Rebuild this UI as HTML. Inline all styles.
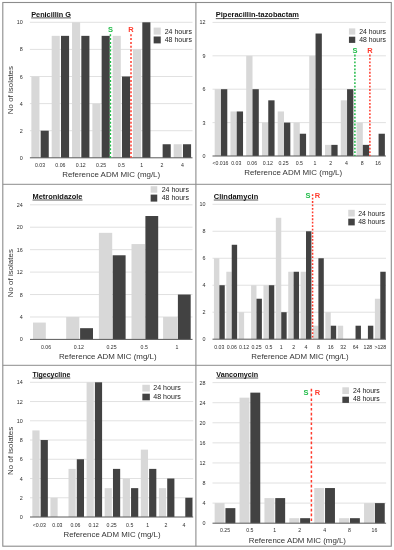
<!DOCTYPE html>
<html><head><meta charset="utf-8"><title>ADM MIC distributions</title>
<style>html,body{margin:0;padding:0;background:#fff}svg{display:block}text{font-family:"Liberation Sans", sans-serif}</style>
</head><body>
<svg width="394" height="550" viewBox="0 0 394 550">
<rect width="394" height="550" fill="#fff"/>
<text x="22.80" y="159.80" font-size="5.4" text-anchor="end" font-weight="normal" fill="#2e2e2e" >0</text>
<line x1="29.9" x2="192.5" y1="130.70" y2="130.70" stroke="#d4d4d4" stroke-width="0.7"/>
<text x="22.80" y="132.70" font-size="5.4" text-anchor="end" font-weight="normal" fill="#2e2e2e" >2</text>
<line x1="29.9" x2="192.5" y1="103.60" y2="103.60" stroke="#d4d4d4" stroke-width="0.7"/>
<text x="22.80" y="105.60" font-size="5.4" text-anchor="end" font-weight="normal" fill="#2e2e2e" >4</text>
<line x1="29.9" x2="192.5" y1="76.50" y2="76.50" stroke="#d4d4d4" stroke-width="0.7"/>
<text x="22.80" y="78.50" font-size="5.4" text-anchor="end" font-weight="normal" fill="#2e2e2e" >6</text>
<line x1="29.9" x2="192.5" y1="49.40" y2="49.40" stroke="#d4d4d4" stroke-width="0.7"/>
<text x="22.80" y="51.40" font-size="5.4" text-anchor="end" font-weight="normal" fill="#2e2e2e" >8</text>
<line x1="29.9" x2="192.5" y1="22.30" y2="22.30" stroke="#d4d4d4" stroke-width="0.7"/>
<text x="22.80" y="24.30" font-size="5.4" text-anchor="end" font-weight="normal" fill="#2e2e2e" >10</text>
<rect x="31.36" y="76.50" width="8.10" height="81.30" fill="#d8d8d8"/>
<rect x="40.66" y="130.70" width="8.10" height="27.10" fill="#424242"/>
<text x="40.06" y="166.70" font-size="5.2" text-anchor="middle" font-weight="normal" fill="#2e2e2e" >0.03</text>
<rect x="51.69" y="35.85" width="8.10" height="121.95" fill="#d8d8d8"/>
<rect x="60.99" y="35.85" width="8.10" height="121.95" fill="#424242"/>
<text x="60.39" y="166.70" font-size="5.2" text-anchor="middle" font-weight="normal" fill="#2e2e2e" >0.06</text>
<rect x="72.03" y="22.30" width="8.10" height="135.50" fill="#d8d8d8"/>
<rect x="81.32" y="35.85" width="8.10" height="121.95" fill="#424242"/>
<text x="80.72" y="166.70" font-size="5.2" text-anchor="middle" font-weight="normal" fill="#2e2e2e" >0.12</text>
<rect x="92.36" y="103.60" width="8.10" height="54.20" fill="#d8d8d8"/>
<rect x="101.65" y="35.85" width="8.10" height="121.95" fill="#424242"/>
<text x="101.05" y="166.70" font-size="5.2" text-anchor="middle" font-weight="normal" fill="#2e2e2e" >0.25</text>
<rect x="112.69" y="35.85" width="8.10" height="121.95" fill="#d8d8d8"/>
<rect x="121.98" y="76.50" width="8.10" height="81.30" fill="#424242"/>
<text x="121.38" y="166.70" font-size="5.2" text-anchor="middle" font-weight="normal" fill="#2e2e2e" >0.5</text>
<rect x="133.01" y="49.40" width="8.10" height="108.40" fill="#d8d8d8"/>
<rect x="142.31" y="22.30" width="8.10" height="135.50" fill="#424242"/>
<text x="141.71" y="166.70" font-size="5.2" text-anchor="middle" font-weight="normal" fill="#2e2e2e" >1</text>
<rect x="162.64" y="144.25" width="8.10" height="13.55" fill="#424242"/>
<text x="162.04" y="166.70" font-size="5.2" text-anchor="middle" font-weight="normal" fill="#2e2e2e" >2</text>
<rect x="173.68" y="144.25" width="8.10" height="13.55" fill="#d8d8d8"/>
<rect x="182.97" y="144.25" width="8.10" height="13.55" fill="#424242"/>
<text x="182.38" y="166.70" font-size="5.2" text-anchor="middle" font-weight="normal" fill="#2e2e2e" >4</text>
<line x1="29.9" x2="192.5" y1="157.80" y2="157.80" stroke="#5a5a5a" stroke-width="1"/>
<line x1="110.4" x2="110.4" y1="34.3" y2="157.8" stroke="#20bb48" stroke-width="1.5" stroke-dasharray="2 1.8"/>
<line x1="131" x2="131" y1="34.3" y2="157.8" stroke="#ff3a2c" stroke-width="1.5" stroke-dasharray="2 1.8"/>
<text x="110.40" y="31.90" font-size="7.5" text-anchor="middle" font-weight="bold" fill="#20bb48" >S</text>
<text x="131.00" y="31.90" font-size="7.5" text-anchor="middle" font-weight="bold" fill="#ff3a2c" >R</text>
<text x="31.20" y="16.60" font-size="7.0" text-anchor="start" font-weight="bold" fill="#111" textLength="39.80" lengthAdjust="spacingAndGlyphs" >Penicillin G</text>
<line x1="31.2" x2="71" y1="17.90" y2="17.90" stroke="#111" stroke-width="0.7"/>
<text x="0.00" y="0.00" font-size="7.0" text-anchor="middle" font-weight="normal" fill="#333333" textLength="48.20" lengthAdjust="spacingAndGlyphs" transform="translate(12.6,90.1) rotate(-90)">No of isolates</text>
<text x="62.20" y="177.40" font-size="7.0" text-anchor="start" font-weight="normal" fill="#333333" textLength="98.00" lengthAdjust="spacingAndGlyphs" >Reference ADM MIC (mg/L)</text>
<rect x="153.65" y="27.599999999999998" width="7.10" height="7.00" fill="#d8d8d8"/>
<rect x="153.65" y="36.5" width="7.10" height="6.90" fill="#424242"/>
<text x="164.70" y="34.00" font-size="6.6" text-anchor="start" font-weight="normal" fill="#222" textLength="27.20" lengthAdjust="spacingAndGlyphs" >24 hours</text>
<text x="164.70" y="42.10" font-size="6.6" text-anchor="start" font-weight="normal" fill="#222" textLength="27.20" lengthAdjust="spacingAndGlyphs" >48 hours</text>
<text x="205.50" y="158.00" font-size="5.4" text-anchor="end" font-weight="normal" fill="#2e2e2e" >0</text>
<line x1="212.5" x2="385.9" y1="122.60" y2="122.60" stroke="#d4d4d4" stroke-width="0.7"/>
<text x="205.50" y="124.60" font-size="5.4" text-anchor="end" font-weight="normal" fill="#2e2e2e" >3</text>
<line x1="212.5" x2="385.9" y1="89.20" y2="89.20" stroke="#d4d4d4" stroke-width="0.7"/>
<text x="205.50" y="91.20" font-size="5.4" text-anchor="end" font-weight="normal" fill="#2e2e2e" >6</text>
<line x1="212.5" x2="385.9" y1="55.80" y2="55.80" stroke="#d4d4d4" stroke-width="0.7"/>
<text x="205.50" y="57.80" font-size="5.4" text-anchor="end" font-weight="normal" fill="#2e2e2e" >9</text>
<line x1="212.5" x2="385.9" y1="22.40" y2="22.40" stroke="#d4d4d4" stroke-width="0.7"/>
<text x="205.50" y="24.40" font-size="5.4" text-anchor="end" font-weight="normal" fill="#2e2e2e" >12</text>
<rect x="214.68" y="89.20" width="6.30" height="66.80" fill="#d8d8d8"/>
<rect x="220.98" y="89.20" width="6.30" height="66.80" fill="#424242"/>
<text x="220.48" y="165.40" font-size="5.2" text-anchor="middle" font-weight="normal" fill="#2e2e2e" >&lt;0.016</text>
<rect x="230.44" y="111.47" width="6.30" height="44.53" fill="#d8d8d8"/>
<rect x="236.74" y="111.47" width="6.30" height="44.53" fill="#424242"/>
<text x="236.24" y="165.40" font-size="5.2" text-anchor="middle" font-weight="normal" fill="#2e2e2e" >0.03</text>
<rect x="246.20" y="55.80" width="6.30" height="100.20" fill="#d8d8d8"/>
<rect x="252.50" y="89.20" width="6.30" height="66.80" fill="#424242"/>
<text x="252.00" y="165.40" font-size="5.2" text-anchor="middle" font-weight="normal" fill="#2e2e2e" >0.06</text>
<rect x="261.96" y="122.60" width="6.30" height="33.40" fill="#d8d8d8"/>
<rect x="268.26" y="100.33" width="6.30" height="55.67" fill="#424242"/>
<text x="267.76" y="165.40" font-size="5.2" text-anchor="middle" font-weight="normal" fill="#2e2e2e" >0.12</text>
<rect x="277.72" y="111.47" width="6.30" height="44.53" fill="#d8d8d8"/>
<rect x="284.02" y="122.60" width="6.30" height="33.40" fill="#424242"/>
<text x="283.52" y="165.40" font-size="5.2" text-anchor="middle" font-weight="normal" fill="#2e2e2e" >0.25</text>
<rect x="293.48" y="122.60" width="6.30" height="33.40" fill="#d8d8d8"/>
<rect x="299.78" y="133.73" width="6.30" height="22.27" fill="#424242"/>
<text x="299.28" y="165.40" font-size="5.2" text-anchor="middle" font-weight="normal" fill="#2e2e2e" >0.5</text>
<rect x="309.24" y="55.80" width="6.30" height="100.20" fill="#d8d8d8"/>
<rect x="315.54" y="33.53" width="6.30" height="122.47" fill="#424242"/>
<text x="315.04" y="165.40" font-size="5.2" text-anchor="middle" font-weight="normal" fill="#2e2e2e" >1</text>
<rect x="325.00" y="144.87" width="6.30" height="11.13" fill="#d8d8d8"/>
<rect x="331.30" y="144.87" width="6.30" height="11.13" fill="#424242"/>
<text x="330.80" y="165.40" font-size="5.2" text-anchor="middle" font-weight="normal" fill="#2e2e2e" >2</text>
<rect x="340.76" y="100.33" width="6.30" height="55.67" fill="#d8d8d8"/>
<rect x="347.06" y="89.20" width="6.30" height="66.80" fill="#424242"/>
<text x="346.56" y="165.40" font-size="5.2" text-anchor="middle" font-weight="normal" fill="#2e2e2e" >4</text>
<rect x="356.52" y="122.60" width="6.30" height="33.40" fill="#d8d8d8"/>
<rect x="362.82" y="144.87" width="6.30" height="11.13" fill="#424242"/>
<text x="362.32" y="165.40" font-size="5.2" text-anchor="middle" font-weight="normal" fill="#2e2e2e" >8</text>
<rect x="378.58" y="133.73" width="6.30" height="22.27" fill="#424242"/>
<text x="378.08" y="165.40" font-size="5.2" text-anchor="middle" font-weight="normal" fill="#2e2e2e" >16</text>
<line x1="212.5" x2="385.9" y1="156.00" y2="156.00" stroke="#5a5a5a" stroke-width="1"/>
<line x1="354.9" x2="354.9" y1="54.6" y2="156" stroke="#20bb48" stroke-width="1.5" stroke-dasharray="1.8 1.65"/>
<line x1="369.9" x2="369.9" y1="54.6" y2="156" stroke="#ff3a2c" stroke-width="1.5" stroke-dasharray="1.8 1.65"/>
<text x="354.90" y="52.90" font-size="7.5" text-anchor="middle" font-weight="bold" fill="#20bb48" >S</text>
<text x="369.90" y="52.90" font-size="7.5" text-anchor="middle" font-weight="bold" fill="#ff3a2c" >R</text>
<text x="215.80" y="17.30" font-size="7.0" text-anchor="start" font-weight="bold" fill="#111" textLength="83.20" lengthAdjust="spacingAndGlyphs" >Piperacillin-tazobactam</text>
<line x1="215.8" x2="299" y1="18.60" y2="18.60" stroke="#111" stroke-width="0.7"/>
<text x="244.20" y="174.90" font-size="7.0" text-anchor="start" font-weight="normal" fill="#333333" textLength="98.00" lengthAdjust="spacingAndGlyphs" >Reference ADM MIC (mg/L)</text>
<rect x="348.95" y="28.4" width="6.30" height="6.20" fill="#d8d8d8"/>
<rect x="348.95" y="36.7" width="6.30" height="6.20" fill="#424242"/>
<text x="359.20" y="34.00" font-size="6.6" text-anchor="start" font-weight="normal" fill="#222" textLength="26.70" lengthAdjust="spacingAndGlyphs" >24 hours</text>
<text x="359.20" y="42.10" font-size="6.6" text-anchor="start" font-weight="normal" fill="#222" textLength="26.70" lengthAdjust="spacingAndGlyphs" >48 hours</text>
<text x="22.80" y="341.40" font-size="5.4" text-anchor="end" font-weight="normal" fill="#2e2e2e" >0</text>
<line x1="30" x2="192.5" y1="316.97" y2="316.97" stroke="#d4d4d4" stroke-width="0.7"/>
<text x="22.80" y="318.97" font-size="5.4" text-anchor="end" font-weight="normal" fill="#2e2e2e" >4</text>
<line x1="30" x2="192.5" y1="294.53" y2="294.53" stroke="#d4d4d4" stroke-width="0.7"/>
<text x="22.80" y="296.53" font-size="5.4" text-anchor="end" font-weight="normal" fill="#2e2e2e" >8</text>
<line x1="30" x2="192.5" y1="272.10" y2="272.10" stroke="#d4d4d4" stroke-width="0.7"/>
<text x="22.80" y="274.10" font-size="5.4" text-anchor="end" font-weight="normal" fill="#2e2e2e" >12</text>
<line x1="30" x2="192.5" y1="249.67" y2="249.67" stroke="#d4d4d4" stroke-width="0.7"/>
<text x="22.80" y="251.67" font-size="5.4" text-anchor="end" font-weight="normal" fill="#2e2e2e" >16</text>
<line x1="30" x2="192.5" y1="227.23" y2="227.23" stroke="#d4d4d4" stroke-width="0.7"/>
<text x="22.80" y="229.23" font-size="5.4" text-anchor="end" font-weight="normal" fill="#2e2e2e" >20</text>
<line x1="30" x2="192.5" y1="204.80" y2="204.80" stroke="#d4d4d4" stroke-width="0.7"/>
<text x="22.80" y="206.80" font-size="5.4" text-anchor="end" font-weight="normal" fill="#2e2e2e" >24</text>
<rect x="33.00" y="322.57" width="12.80" height="16.82" fill="#d8d8d8"/>
<text x="46.10" y="348.60" font-size="5.2" text-anchor="middle" font-weight="normal" fill="#2e2e2e" >0.06</text>
<rect x="66.20" y="316.97" width="13.10" height="22.43" fill="#d8d8d8"/>
<rect x="80.10" y="328.18" width="12.90" height="11.22" fill="#424242"/>
<text x="78.80" y="348.60" font-size="5.2" text-anchor="middle" font-weight="normal" fill="#2e2e2e" >0.12</text>
<rect x="98.90" y="232.84" width="13.30" height="106.56" fill="#d8d8d8"/>
<rect x="112.70" y="255.28" width="12.90" height="84.12" fill="#424242"/>
<text x="111.50" y="348.60" font-size="5.2" text-anchor="middle" font-weight="normal" fill="#2e2e2e" >0.25</text>
<rect x="131.50" y="244.06" width="13.60" height="95.34" fill="#d8d8d8"/>
<rect x="145.40" y="216.02" width="12.80" height="123.38" fill="#424242"/>
<text x="144.20" y="348.60" font-size="5.2" text-anchor="middle" font-weight="normal" fill="#2e2e2e" >0.5</text>
<rect x="163.10" y="316.97" width="14.30" height="22.43" fill="#d8d8d8"/>
<rect x="177.90" y="294.53" width="12.80" height="44.87" fill="#424242"/>
<text x="176.90" y="348.60" font-size="5.2" text-anchor="middle" font-weight="normal" fill="#2e2e2e" >1</text>
<line x1="30" x2="192.5" y1="339.40" y2="339.40" stroke="#5a5a5a" stroke-width="1"/>
<text x="32.50" y="198.70" font-size="7.0" text-anchor="start" font-weight="bold" fill="#111" textLength="50.00" lengthAdjust="spacingAndGlyphs" >Metronidazole</text>
<line x1="32.5" x2="82.5" y1="200.00" y2="200.00" stroke="#111" stroke-width="0.7"/>
<text x="0.00" y="0.00" font-size="7.0" text-anchor="middle" font-weight="normal" fill="#333333" textLength="48.20" lengthAdjust="spacingAndGlyphs" transform="translate(12.6,273.2) rotate(-90)">No of isolates</text>
<text x="58.90" y="358.90" font-size="7.0" text-anchor="start" font-weight="normal" fill="#333333" textLength="97.70" lengthAdjust="spacingAndGlyphs" >Reference ADM MIC (mg/L)</text>
<rect x="150.65" y="186.2" width="6.60" height="6.50" fill="#d8d8d8"/>
<rect x="150.65" y="194.6" width="6.60" height="7.00" fill="#424242"/>
<text x="161.70" y="191.90" font-size="6.6" text-anchor="start" font-weight="normal" fill="#222" textLength="27.20" lengthAdjust="spacingAndGlyphs" >24 hours</text>
<text x="161.70" y="200.30" font-size="6.6" text-anchor="start" font-weight="normal" fill="#222" textLength="27.20" lengthAdjust="spacingAndGlyphs" >48 hours</text>
<text x="205.50" y="341.20" font-size="5.4" text-anchor="end" font-weight="normal" fill="#2e2e2e" >0</text>
<line x1="212.5" x2="386" y1="312.22" y2="312.22" stroke="#d4d4d4" stroke-width="0.7"/>
<text x="205.50" y="314.22" font-size="5.4" text-anchor="end" font-weight="normal" fill="#2e2e2e" >2</text>
<line x1="212.5" x2="386" y1="285.24" y2="285.24" stroke="#d4d4d4" stroke-width="0.7"/>
<text x="205.50" y="287.24" font-size="5.4" text-anchor="end" font-weight="normal" fill="#2e2e2e" >4</text>
<line x1="212.5" x2="386" y1="258.26" y2="258.26" stroke="#d4d4d4" stroke-width="0.7"/>
<text x="205.50" y="260.26" font-size="5.4" text-anchor="end" font-weight="normal" fill="#2e2e2e" >6</text>
<line x1="212.5" x2="386" y1="231.28" y2="231.28" stroke="#d4d4d4" stroke-width="0.7"/>
<text x="205.50" y="233.28" font-size="5.4" text-anchor="end" font-weight="normal" fill="#2e2e2e" >8</text>
<line x1="212.5" x2="386" y1="204.30" y2="204.30" stroke="#d4d4d4" stroke-width="0.7"/>
<text x="205.50" y="206.30" font-size="5.4" text-anchor="end" font-weight="normal" fill="#2e2e2e" >10</text>
<rect x="213.95" y="258.26" width="5.40" height="80.94" fill="#d8d8d8"/>
<rect x="219.35" y="285.24" width="5.40" height="53.96" fill="#424242"/>
<text x="219.35" y="348.60" font-size="5.2" text-anchor="middle" font-weight="normal" fill="#2e2e2e" >0.03</text>
<rect x="226.33" y="271.75" width="5.40" height="67.45" fill="#d8d8d8"/>
<rect x="231.73" y="244.77" width="5.40" height="94.43" fill="#424242"/>
<text x="231.73" y="348.60" font-size="5.2" text-anchor="middle" font-weight="normal" fill="#2e2e2e" >0.06</text>
<rect x="238.71" y="312.22" width="5.40" height="26.98" fill="#d8d8d8"/>
<text x="244.11" y="348.60" font-size="5.2" text-anchor="middle" font-weight="normal" fill="#2e2e2e" >0.12</text>
<rect x="251.09" y="285.24" width="5.40" height="53.96" fill="#d8d8d8"/>
<rect x="256.49" y="298.73" width="5.40" height="40.47" fill="#424242"/>
<text x="256.49" y="348.60" font-size="5.2" text-anchor="middle" font-weight="normal" fill="#2e2e2e" >0.25</text>
<rect x="263.47" y="285.24" width="5.40" height="53.96" fill="#d8d8d8"/>
<rect x="268.87" y="285.24" width="5.40" height="53.96" fill="#424242"/>
<text x="268.87" y="348.60" font-size="5.2" text-anchor="middle" font-weight="normal" fill="#2e2e2e" >0.5</text>
<rect x="275.85" y="217.79" width="5.40" height="121.41" fill="#d8d8d8"/>
<rect x="281.25" y="312.22" width="5.40" height="26.98" fill="#424242"/>
<text x="281.25" y="348.60" font-size="5.2" text-anchor="middle" font-weight="normal" fill="#2e2e2e" >1</text>
<rect x="288.23" y="271.75" width="5.40" height="67.45" fill="#d8d8d8"/>
<rect x="293.63" y="271.75" width="5.40" height="67.45" fill="#424242"/>
<text x="293.63" y="348.60" font-size="5.2" text-anchor="middle" font-weight="normal" fill="#2e2e2e" >2</text>
<rect x="300.61" y="271.75" width="5.40" height="67.45" fill="#d8d8d8"/>
<rect x="306.01" y="231.28" width="5.40" height="107.92" fill="#424242"/>
<text x="306.01" y="348.60" font-size="5.2" text-anchor="middle" font-weight="normal" fill="#2e2e2e" >4</text>
<rect x="312.99" y="325.71" width="5.40" height="13.49" fill="#d8d8d8"/>
<rect x="318.39" y="258.26" width="5.40" height="80.94" fill="#424242"/>
<text x="318.39" y="348.60" font-size="5.2" text-anchor="middle" font-weight="normal" fill="#2e2e2e" >8</text>
<rect x="325.37" y="312.22" width="5.40" height="26.98" fill="#d8d8d8"/>
<rect x="330.77" y="325.71" width="5.40" height="13.49" fill="#424242"/>
<text x="330.77" y="348.60" font-size="5.2" text-anchor="middle" font-weight="normal" fill="#2e2e2e" >16</text>
<rect x="337.75" y="325.71" width="5.40" height="13.49" fill="#d8d8d8"/>
<text x="343.15" y="348.60" font-size="5.2" text-anchor="middle" font-weight="normal" fill="#2e2e2e" >32</text>
<rect x="355.53" y="325.71" width="5.40" height="13.49" fill="#424242"/>
<text x="355.53" y="348.60" font-size="5.2" text-anchor="middle" font-weight="normal" fill="#2e2e2e" >64</text>
<rect x="367.91" y="325.71" width="5.40" height="13.49" fill="#424242"/>
<text x="367.91" y="348.60" font-size="5.2" text-anchor="middle" font-weight="normal" fill="#2e2e2e" >128</text>
<rect x="374.89" y="298.73" width="5.40" height="40.47" fill="#d8d8d8"/>
<rect x="380.29" y="271.75" width="5.40" height="67.45" fill="#424242"/>
<text x="380.29" y="348.60" font-size="5.2" text-anchor="middle" font-weight="normal" fill="#2e2e2e" >&gt;128</text>
<line x1="212.5" x2="386" y1="339.20" y2="339.20" stroke="#5a5a5a" stroke-width="1"/>
<line x1="312.6" x2="312.6" y1="194.2" y2="339.2" stroke="#ff3a2c" stroke-width="1.5" stroke-dasharray="1.8 1.65"/>
<text x="308.00" y="198.30" font-size="7.5" text-anchor="middle" font-weight="bold" fill="#20bb48" >S</text>
<text x="317.40" y="198.30" font-size="7.5" text-anchor="middle" font-weight="bold" fill="#ff3a2c" >R</text>
<text x="213.80" y="198.70" font-size="7.0" text-anchor="start" font-weight="bold" fill="#111" textLength="44.40" lengthAdjust="spacingAndGlyphs" >Clindamycin</text>
<line x1="213.8" x2="258.2" y1="200.00" y2="200.00" stroke="#111" stroke-width="0.7"/>
<text x="251.30" y="358.90" font-size="7.0" text-anchor="start" font-weight="normal" fill="#333333" textLength="97.30" lengthAdjust="spacingAndGlyphs" >Reference ADM MIC (mg/L)</text>
<rect x="348.25" y="209.79999999999998" width="6.50" height="6.70" fill="#d8d8d8"/>
<rect x="348.25" y="218.7" width="6.50" height="6.70" fill="#424242"/>
<text x="358.20" y="215.50" font-size="6.6" text-anchor="start" font-weight="normal" fill="#222" textLength="26.70" lengthAdjust="spacingAndGlyphs" >24 hours</text>
<text x="358.20" y="224.40" font-size="6.6" text-anchor="start" font-weight="normal" fill="#222" textLength="26.70" lengthAdjust="spacingAndGlyphs" >48 hours</text>
<text x="22.80" y="519.00" font-size="5.4" text-anchor="end" font-weight="normal" fill="#2e2e2e" >0</text>
<line x1="30" x2="193.2" y1="497.76" y2="497.76" stroke="#d4d4d4" stroke-width="0.7"/>
<text x="22.80" y="499.76" font-size="5.4" text-anchor="end" font-weight="normal" fill="#2e2e2e" >2</text>
<line x1="30" x2="193.2" y1="478.51" y2="478.51" stroke="#d4d4d4" stroke-width="0.7"/>
<text x="22.80" y="480.51" font-size="5.4" text-anchor="end" font-weight="normal" fill="#2e2e2e" >4</text>
<line x1="30" x2="193.2" y1="459.27" y2="459.27" stroke="#d4d4d4" stroke-width="0.7"/>
<text x="22.80" y="461.27" font-size="5.4" text-anchor="end" font-weight="normal" fill="#2e2e2e" >6</text>
<line x1="30" x2="193.2" y1="440.03" y2="440.03" stroke="#d4d4d4" stroke-width="0.7"/>
<text x="22.80" y="442.03" font-size="5.4" text-anchor="end" font-weight="normal" fill="#2e2e2e" >8</text>
<line x1="30" x2="193.2" y1="420.79" y2="420.79" stroke="#d4d4d4" stroke-width="0.7"/>
<text x="22.80" y="422.79" font-size="5.4" text-anchor="end" font-weight="normal" fill="#2e2e2e" >10</text>
<line x1="30" x2="193.2" y1="401.54" y2="401.54" stroke="#d4d4d4" stroke-width="0.7"/>
<text x="22.80" y="403.54" font-size="5.4" text-anchor="end" font-weight="normal" fill="#2e2e2e" >12</text>
<line x1="30" x2="193.2" y1="382.30" y2="382.30" stroke="#d4d4d4" stroke-width="0.7"/>
<text x="22.80" y="384.30" font-size="5.4" text-anchor="end" font-weight="normal" fill="#2e2e2e" >14</text>
<rect x="32.35" y="430.41" width="7.20" height="86.59" fill="#d8d8d8"/>
<rect x="40.65" y="440.03" width="7.20" height="76.97" fill="#424242"/>
<text x="39.30" y="526.60" font-size="5.2" text-anchor="middle" font-weight="normal" fill="#2e2e2e" >&lt;0.03</text>
<rect x="50.43" y="497.76" width="7.20" height="19.24" fill="#d8d8d8"/>
<text x="57.38" y="526.60" font-size="5.2" text-anchor="middle" font-weight="normal" fill="#2e2e2e" >0.03</text>
<rect x="68.51" y="468.89" width="7.20" height="48.11" fill="#d8d8d8"/>
<rect x="76.81" y="459.27" width="7.20" height="57.73" fill="#424242"/>
<text x="75.46" y="526.60" font-size="5.2" text-anchor="middle" font-weight="normal" fill="#2e2e2e" >0.06</text>
<rect x="86.59" y="382.30" width="7.20" height="134.70" fill="#d8d8d8"/>
<rect x="94.89" y="382.30" width="7.20" height="134.70" fill="#424242"/>
<text x="93.54" y="526.60" font-size="5.2" text-anchor="middle" font-weight="normal" fill="#2e2e2e" >0.12</text>
<rect x="104.67" y="488.14" width="7.20" height="28.86" fill="#d8d8d8"/>
<rect x="112.97" y="468.89" width="7.20" height="48.11" fill="#424242"/>
<text x="111.62" y="526.60" font-size="5.2" text-anchor="middle" font-weight="normal" fill="#2e2e2e" >0.25</text>
<rect x="122.75" y="478.51" width="7.20" height="38.49" fill="#d8d8d8"/>
<rect x="131.05" y="488.14" width="7.20" height="28.86" fill="#424242"/>
<text x="129.70" y="526.60" font-size="5.2" text-anchor="middle" font-weight="normal" fill="#2e2e2e" >0.5</text>
<rect x="140.83" y="449.65" width="7.20" height="67.35" fill="#d8d8d8"/>
<rect x="149.13" y="468.89" width="7.20" height="48.11" fill="#424242"/>
<text x="147.78" y="526.60" font-size="5.2" text-anchor="middle" font-weight="normal" fill="#2e2e2e" >1</text>
<rect x="158.91" y="488.14" width="7.20" height="28.86" fill="#d8d8d8"/>
<rect x="167.21" y="478.51" width="7.20" height="38.49" fill="#424242"/>
<text x="165.86" y="526.60" font-size="5.2" text-anchor="middle" font-weight="normal" fill="#2e2e2e" >2</text>
<rect x="185.29" y="497.76" width="7.20" height="19.24" fill="#424242"/>
<text x="183.94" y="526.60" font-size="5.2" text-anchor="middle" font-weight="normal" fill="#2e2e2e" >4</text>
<line x1="30" x2="193.2" y1="517.00" y2="517.00" stroke="#5a5a5a" stroke-width="1"/>
<text x="32.50" y="376.70" font-size="7.0" text-anchor="start" font-weight="bold" fill="#111" textLength="37.80" lengthAdjust="spacingAndGlyphs" >Tigecycline</text>
<line x1="32.5" x2="70.3" y1="378.00" y2="378.00" stroke="#111" stroke-width="0.7"/>
<text x="0.00" y="0.00" font-size="7.0" text-anchor="middle" font-weight="normal" fill="#333333" textLength="48.20" lengthAdjust="spacingAndGlyphs" transform="translate(12.6,450.9) rotate(-90)">No of isolates</text>
<text x="63.50" y="536.80" font-size="7.0" text-anchor="start" font-weight="normal" fill="#333333" textLength="97.00" lengthAdjust="spacingAndGlyphs" >Reference ADM MIC (mg/L)</text>
<rect x="142.35" y="384.8" width="7.50" height="6.70" fill="#d8d8d8"/>
<rect x="142.35" y="393.7" width="7.50" height="6.60" fill="#424242"/>
<text x="153.30" y="390.40" font-size="6.6" text-anchor="start" font-weight="normal" fill="#222" textLength="27.50" lengthAdjust="spacingAndGlyphs" >24 hours</text>
<text x="153.30" y="399.30" font-size="6.6" text-anchor="start" font-weight="normal" fill="#222" textLength="27.50" lengthAdjust="spacingAndGlyphs" >48 hours</text>
<text x="205.40" y="525.20" font-size="5.4" text-anchor="end" font-weight="normal" fill="#2e2e2e" >0</text>
<line x1="212.5" x2="386.1" y1="503.11" y2="503.11" stroke="#d4d4d4" stroke-width="0.7"/>
<text x="205.40" y="505.11" font-size="5.4" text-anchor="end" font-weight="normal" fill="#2e2e2e" >4</text>
<line x1="212.5" x2="386.1" y1="483.03" y2="483.03" stroke="#d4d4d4" stroke-width="0.7"/>
<text x="205.40" y="485.03" font-size="5.4" text-anchor="end" font-weight="normal" fill="#2e2e2e" >8</text>
<line x1="212.5" x2="386.1" y1="462.94" y2="462.94" stroke="#d4d4d4" stroke-width="0.7"/>
<text x="205.40" y="464.94" font-size="5.4" text-anchor="end" font-weight="normal" fill="#2e2e2e" >12</text>
<line x1="212.5" x2="386.1" y1="442.86" y2="442.86" stroke="#d4d4d4" stroke-width="0.7"/>
<text x="205.40" y="444.86" font-size="5.4" text-anchor="end" font-weight="normal" fill="#2e2e2e" >16</text>
<line x1="212.5" x2="386.1" y1="422.77" y2="422.77" stroke="#d4d4d4" stroke-width="0.7"/>
<text x="205.40" y="424.77" font-size="5.4" text-anchor="end" font-weight="normal" fill="#2e2e2e" >20</text>
<line x1="212.5" x2="386.1" y1="402.69" y2="402.69" stroke="#d4d4d4" stroke-width="0.7"/>
<text x="205.40" y="404.69" font-size="5.4" text-anchor="end" font-weight="normal" fill="#2e2e2e" >24</text>
<line x1="212.5" x2="386.1" y1="382.60" y2="382.60" stroke="#d4d4d4" stroke-width="0.7"/>
<text x="205.40" y="384.60" font-size="5.4" text-anchor="end" font-weight="normal" fill="#2e2e2e" >28</text>
<rect x="214.65" y="503.11" width="9.90" height="20.09" fill="#d8d8d8"/>
<rect x="225.45" y="508.14" width="9.90" height="15.06" fill="#424242"/>
<text x="225.00" y="532.20" font-size="5.2" text-anchor="middle" font-weight="normal" fill="#2e2e2e" >0.25</text>
<rect x="239.55" y="397.66" width="9.90" height="125.54" fill="#d8d8d8"/>
<rect x="250.35" y="392.64" width="9.90" height="130.56" fill="#424242"/>
<text x="249.90" y="532.20" font-size="5.2" text-anchor="middle" font-weight="normal" fill="#2e2e2e" >0.5</text>
<rect x="264.45" y="498.09" width="9.90" height="25.11" fill="#d8d8d8"/>
<rect x="275.25" y="498.09" width="9.90" height="25.11" fill="#424242"/>
<text x="274.80" y="532.20" font-size="5.2" text-anchor="middle" font-weight="normal" fill="#2e2e2e" >1</text>
<rect x="289.35" y="518.18" width="9.90" height="5.02" fill="#d8d8d8"/>
<rect x="300.15" y="518.18" width="9.90" height="5.02" fill="#424242"/>
<text x="299.70" y="532.20" font-size="5.2" text-anchor="middle" font-weight="normal" fill="#2e2e2e" >2</text>
<rect x="314.25" y="488.05" width="9.90" height="35.15" fill="#d8d8d8"/>
<rect x="325.05" y="488.05" width="9.90" height="35.15" fill="#424242"/>
<text x="324.60" y="532.20" font-size="5.2" text-anchor="middle" font-weight="normal" fill="#2e2e2e" >4</text>
<rect x="339.15" y="518.18" width="9.90" height="5.02" fill="#d8d8d8"/>
<rect x="349.95" y="518.18" width="9.90" height="5.02" fill="#424242"/>
<text x="349.50" y="532.20" font-size="5.2" text-anchor="middle" font-weight="normal" fill="#2e2e2e" >8</text>
<rect x="364.05" y="503.11" width="9.90" height="20.09" fill="#d8d8d8"/>
<rect x="374.85" y="503.11" width="9.90" height="20.09" fill="#424242"/>
<text x="374.40" y="532.20" font-size="5.2" text-anchor="middle" font-weight="normal" fill="#2e2e2e" >16</text>
<line x1="212.5" x2="386.1" y1="523.20" y2="523.20" stroke="#5a5a5a" stroke-width="1"/>
<line x1="311.4" x2="311.4" y1="388.8" y2="523.2" stroke="#ff3a2c" stroke-width="1.5" stroke-dasharray="2.6 2.2"/>
<text x="305.90" y="394.80" font-size="7.5" text-anchor="middle" font-weight="bold" fill="#20bb48" >S</text>
<text x="317.40" y="394.80" font-size="7.5" text-anchor="middle" font-weight="bold" fill="#ff3a2c" >R</text>
<text x="216.30" y="376.70" font-size="7.0" text-anchor="start" font-weight="bold" fill="#111" textLength="41.90" lengthAdjust="spacingAndGlyphs" >Vancomycin</text>
<line x1="216.3" x2="258.2" y1="378.00" y2="378.00" stroke="#111" stroke-width="0.7"/>
<text x="248.80" y="542.90" font-size="7.0" text-anchor="start" font-weight="normal" fill="#333333" textLength="97.20" lengthAdjust="spacingAndGlyphs" >Reference ADM MIC (mg/L)</text>
<rect x="342.34999999999997" y="387.3" width="6.60" height="6.70" fill="#d8d8d8"/>
<rect x="342.34999999999997" y="396.7" width="6.60" height="6.20" fill="#424242"/>
<text x="352.90" y="392.90" font-size="6.6" text-anchor="start" font-weight="normal" fill="#222" textLength="26.90" lengthAdjust="spacingAndGlyphs" >24 hours</text>
<text x="352.90" y="401.10" font-size="6.6" text-anchor="start" font-weight="normal" fill="#222" textLength="26.90" lengthAdjust="spacingAndGlyphs" >48 hours</text>
<rect x="2.8" y="2.5" width="388.5" height="543.7" fill="none" stroke="#8c8c8c" stroke-width="1.1"/>
<line x1="195.9" x2="195.9" y1="2.5" y2="546.2" stroke="#8c8c8c" stroke-width="1.1"/>
<line x1="2.8" x2="391.3" y1="184.3" y2="184.3" stroke="#8c8c8c" stroke-width="1"/>
<line x1="2.8" x2="391.3" y1="365.3" y2="365.3" stroke="#8c8c8c" stroke-width="1"/>
</svg>
</body></html>
